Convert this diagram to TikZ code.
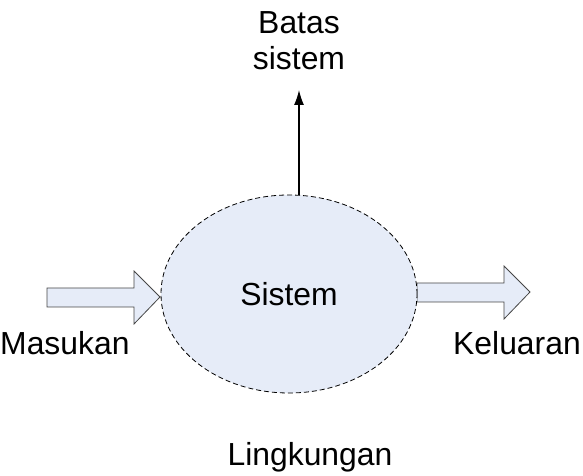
\documentclass[tikz,border=0pt]{standalone}
\usepackage{fontspec}
\setmainfont{Liberation Sans}
\usetikzlibrary{arrows.meta,shapes.geometric}
\definecolor{sysfill}{RGB}{230,236,248}
\definecolor{blockedge}{RGB}{70,70,70}
\tikzset{
  lbl/.style={inner sep=0pt,font=\fontsize{32}{37}\selectfont,text=black},
  blockarrow/.style={draw=blockedge,fill=sysfill,line width=0.8bp,line join=miter},
  sysbox/.style={ellipse,draw=black,dash pattern=on 5bp off 3bp,fill=sysfill,line width=0.8bp,
    minimum width=256bp,minimum height=198bp,inner sep=0pt,
    font=\fontsize{32}{37}\selectfont},
  thinarrow/.style={draw=black,line width=1.3bp,-{Latex[length=15bp,width=10bp]}}
}
\begin{document}
\begin{tikzpicture}[x=1bp,y=1bp]
\useasboundingbox (0,0) rectangle (583,476);
% block arrows
\draw[blockarrow] (47,188) -- (134,188) -- (134,205) -- (160,179) -- (134,152) -- (134,169) -- (47,169) -- cycle;
\draw[blockarrow] (417,193) -- (504,193) -- (504,210) -- (530,184) -- (504,157) -- (504,174) -- (417,174) -- cycle;
% system
\node[sysbox] (sys) at (289,182) {Sistem};
\coordinate (top) at (299,386);
\coordinate (bot) at (299,281);
\draw[thinarrow] (bot) -- (top);
% labels
\node[lbl,anchor=base,align=center] (batas) at (299,406) {Batas\\sistem};
\node[lbl,anchor=base west] (masukan) at (0,121) {Masukan};
\node[lbl,anchor=base east] (keluaran) at (581,121) {Keluaran};
\node[lbl,anchor=base] (lingkungan) at (310,10) {Lingkungan};
\end{tikzpicture}
\end{document}
